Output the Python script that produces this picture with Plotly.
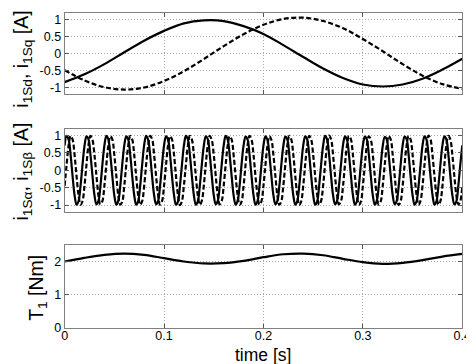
import plotly.graph_objects as go

# ---------------- data ----------------
# panel 1: i_1Sd (solid), i_1Sq (dashed), sampled every 0.02 s from t = 0
dt1 = 0.02
i_sd = [-0.84, -0.61, -0.31, 0.04, 0.38, 0.67, 0.89, 0.98, 0.96, 0.81, 0.58,
        0.25, -0.10, -0.44, -0.72, -0.91, -0.97, -0.91, -0.74, -0.47, -0.15]
i_sq = [-0.49, -0.79, -0.99, -1.06, -1.00, -0.81, -0.52, -0.16, 0.22, 0.57, 0.85,
        1.02, 1.06, 0.96, 0.75, 0.43, 0.07, -0.31, -0.65, -0.90, -1.04]

# panel 2: i_1Salpha (solid), i_1Sbeta (dashed), sampled every 2 ms from t = 0
dt2 = 0.002
i_alpha = [
    0.71, 0.99, 0.89, 0.45, -0.16, -0.71, -0.99, -0.89, -0.45, 0.16,
    0.70, 0.98, 0.90, 0.45, -0.15, -0.71, -0.98, -0.89, -0.46, 0.16,
    0.71, 0.99, 0.89, 0.44, -0.16, -0.72, -0.99, -0.88, -0.45, 0.17,
    0.71, 0.98, 0.89, 0.45, -0.16, -0.71, -0.99, -0.89, -0.45, 0.16,
    0.72, 0.99, 0.88, 0.45, -0.17, -0.71, -0.98, -0.89, -0.45, 0.16,
    0.71, 0.98, 0.89, 0.46, -0.16, -0.70, -0.99, -0.90, -0.45, 0.15,
    0.71, 0.99, 0.89, 0.45, -0.16, -0.71, -0.99, -0.89, -0.44, 0.16,
    0.70, 0.98, 0.90, 0.45, -0.15, -0.71, -0.98, -0.89, -0.45, 0.16,
    0.71, 0.99, 0.89, 0.45, -0.16, -0.72, -0.99, -0.88, -0.45, 0.17,
    0.71, 0.97, 0.89, 0.45, -0.16, -0.71, -0.99, -0.89, -0.46, 0.16,
    0.71, 0.98, 0.88, 0.44, -0.16, -0.71, -0.98, -0.89, -0.45, 0.16,
    0.70, 0.97, 0.89, 0.45, -0.17, -0.71, -0.99, -0.89, -0.45, 0.15,
    0.71, 0.98, 0.89, 0.45, -0.16, -0.70, -0.99, -0.90, -0.45, 0.16,
    0.71, 0.99, 0.89, 0.46, -0.16, -0.71, -0.98, -0.89, -0.44, 0.16,
    0.72, 0.98, 0.88, 0.45, -0.15, -0.71, -0.99, -0.89, -0.45, 0.17,
    0.71, 0.97, 0.89, 0.45, -0.16, -0.72, -0.99, -0.88, -0.45, 0.16,
    0.70, 0.96, 0.89, 0.44, -0.16, -0.71, -0.98, -0.89, -0.46, 0.16,
    0.71, 0.97, 0.90, 0.45, -0.17, -0.71, -0.99, -0.89, -0.45, 0.15,
    0.71, 0.98, 0.89, 0.45, -0.16, -0.70, -0.99, -0.89, -0.45, 0.16,
    0.71, 0.98, 0.89, 0.46, -0.16, -0.71, -0.98, -0.90, -0.45, 0.16,
    0.72]
i_beta = [
    -0.45, 0.16, 0.71, 0.99, 0.89, 0.45, -0.16, -0.71, -0.99, -0.89,
    -0.44, 0.16, 0.72, 0.99, 0.88, 0.45, -0.15, -0.71, -0.98, -0.89,
    -0.45, 0.17, 0.71, 0.98, 0.89, 0.44, -0.16, -0.72, -0.99, -0.90,
    -0.45, 0.16, 0.71, 0.99, 0.89, 0.45, -0.17, -0.71, -0.99, -0.89,
    -0.46, 0.16, 0.70, 0.99, 0.90, 0.45, -0.16, -0.70, -0.99, -0.89,
    -0.45, 0.15, 0.71, 0.98, 0.89, 0.46, -0.16, -0.71, -1.00, -0.89,
    -0.44, 0.16, 0.71, 0.99, 0.89, 0.45, -0.16, -0.72, -0.99, -0.88,
    -0.45, 0.17, 0.72, 0.99, 0.88, 0.45, -0.15, -0.71, -0.98, -0.89,
    -0.45, 0.16, 0.71, 0.98, 0.89, 0.44, -0.16, -0.71, -0.99, -0.90,
    -0.46, 0.16, 0.71, 0.99, 0.89, 0.45, -0.17, -0.71, -0.99, -0.89,
    -0.45, 0.15, 0.70, 0.98, 0.88, 0.45, -0.16, -0.72, -0.99, -0.89,
    -0.44, 0.16, 0.71, 0.99, 0.89, 0.46, -0.16, -0.71, -1.00, -0.89,
    -0.45, 0.17, 0.71, 0.99, 0.89, 0.45, -0.15, -0.70, -0.99, -0.88,
    -0.45, 0.16, 0.72, 1.00, 0.90, 0.45, -0.16, -0.71, -0.98, -0.89,
    -0.46, 0.16, 0.71, 0.99, 0.89, 0.44, -0.16, -0.71, -0.99, -0.90,
    -0.45, 0.15, 0.71, 0.98, 0.88, 0.45, -0.17, -0.72, -0.99, -0.89,
    -0.44, 0.16, 0.70, 0.99, 0.89, 0.45, -0.16, -0.71, -1.00, -0.89,
    -0.45, 0.17, 0.71, 0.99, 0.89, 0.46, -0.15, -0.71, -0.99, -0.88,
    -0.45, 0.16, 0.71, 1.00, 0.90, 0.45, -0.16, -0.70, -0.99, -0.89,
    -0.46, 0.16, 0.72, 0.99, 0.89, 0.45, -0.16, -0.71, -0.98, -0.89,
    -0.45]

# panel 3: torque T_1, sampled every 0.02 s from t = 0
dt3 = 0.02
torque = [2.01, 2.12, 2.21, 2.25, 2.21, 2.11, 2.01, 1.95, 1.96, 2.03, 2.14,
          2.23, 2.25, 2.20, 2.09, 1.99, 1.94, 1.97, 2.05, 2.16, 2.24]

x_ticks = [0, 0.1, 0.2, 0.3, 0.4]
x_tick_labels = ["0", "0.1", "0.2", "0.3", "0.4"]
i_ticks = [-1, -0.5, 0, 0.5, 1]
i_tick_labels = ["-1", "-0.5", "0", "0.5", "1"]
t_ticks = [0, 1, 2]
t_tick_labels = ["0", "1", "2"]

y_label_1 = "i<sub>1Sd</sub>, i<sub>1Sq</sub> [A]"
y_label_2 = "i<sub>1S\u03b1</sub>, i<sub>1S\u03b2</sub> [A]"
y_label_3 = "T<sub>1</sub> [Nm]"
x_label = "time [s]"

# ---------------- figure ----------------
W, H = 474, 364
FONT = "Liberation Sans, Arial, sans-serif"

def px_dom(top, bottom):
    return [1 - bottom / H, 1 - top / H]

xdom = [55 / W, 463 / W]

fig = go.Figure()
solid = dict(color="black", width=2.2, shape="spline", smoothing=1.0)
dashed = dict(color="black", width=2.2, dash="5px,2.5px", shape="spline", smoothing=1.0)

fig.add_trace(go.Scatter(x0=0, dx=dt1, y=i_sd, mode="lines", line=solid, xaxis="x", yaxis="y"))
fig.add_trace(go.Scatter(x0=0, dx=dt1, y=i_sq, mode="lines", line=dashed, xaxis="x", yaxis="y"))
fig.add_trace(go.Scatter(x0=0, dx=dt2, y=i_alpha, mode="lines", line=solid, xaxis="x2", yaxis="y2"))
fig.add_trace(go.Scatter(x0=0, dx=dt2, y=i_beta, mode="lines", line=dashed, xaxis="x2", yaxis="y2"))
fig.add_trace(go.Scatter(x0=0, dx=dt3, y=torque, mode="lines", line=solid, xaxis="x3", yaxis="y3"))

axis_common = dict(
    showline=True, linecolor="#808080", linewidth=1, mirror="ticks",
    ticks="inside", ticklen=4, tickcolor="#555555", tickwidth=1,
    showgrid=True, gridcolor="#a8a8a8", griddash="1px,2px", gridwidth=1,
    zeroline=False, tickfont=dict(family=FONT, size=12.5, color="black"),
)

def xax(dom_anchor, show_labels):
    d = dict(axis_common)
    d.update(domain=xdom, anchor=dom_anchor, range=[0, 0.4],
             tickvals=x_ticks, ticktext=x_tick_labels, showticklabels=show_labels,
             ticklabelstandoff=-4, ticklabeloverflow="allow")
    return d

def yax(anchor, dom, rng, tv, tt):
    d = dict(axis_common)
    d.update(domain=dom, anchor=anchor, range=rng, tickvals=tv, ticktext=tt,
             ticklabelstandoff=0)
    return d

fig.update_layout(
    width=W, height=H,
    margin=dict(l=0, r=0, t=0, b=0),
    paper_bgcolor="white", plot_bgcolor="white",
    showlegend=False,
    font=dict(family=FONT, color="black"),
    xaxis=xax("y", False),
    xaxis2=xax("y2", False),
    xaxis3=xax("y3", True),
    yaxis=yax("x", px_dom(5, 88), [-1.2, 1.2], i_ticks, i_tick_labels),
    yaxis2=yax("x2", px_dom(123, 208), [-1.2, 1.2], i_ticks, i_tick_labels),
    yaxis3=yax("x3", px_dom(242, 326), [0, 2.5], t_ticks, t_tick_labels),
)

ann_font = dict(family=FONT, size=19.5, color="black")
fig.add_annotation(text=y_label_1, textangle=-90, xref="paper", yref="paper",
                   x=12 / W, y=1 - 52 / H, xanchor="center", yanchor="middle",
                   showarrow=False, font=ann_font)
fig.add_annotation(text=y_label_2, textangle=-90, xref="paper", yref="paper",
                   x=12 / W, y=1 - 167 / H, xanchor="center", yanchor="middle",
                   showarrow=False, font=ann_font)
fig.add_annotation(text=y_label_3, textangle=-90, xref="paper", yref="paper",
                   x=27 / W, y=1 - 285 / H, xanchor="center", yanchor="middle",
                   showarrow=False, font=ann_font)
fig.add_annotation(text=x_label, xref="paper", yref="paper",
                   x=259 / W, y=1 - 354 / H, xanchor="center", yanchor="middle",
                   showarrow=False, font=dict(family=FONT, size=17.5, color="black"))

fig.write_html("out.html")
